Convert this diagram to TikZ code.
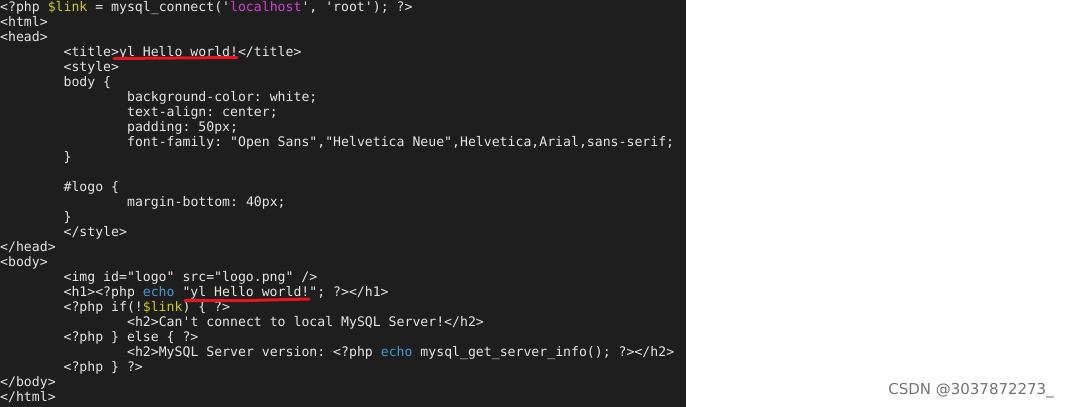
\documentclass[tikz,border=0pt]{standalone}
\usepackage{fontspec}
\setmonofont{DejaVu Sans Mono}
\setsansfont{DejaVu Sans}
\definecolor{termbg}{HTML}{1E1E1E}
\definecolor{termfg}{HTML}{E6E6E6}
\definecolor{phpvar}{HTML}{CDCD00}
\definecolor{phpstr}{HTML}{D040D0}
\definecolor{phpkw}{HTML}{3C9CD4}
\definecolor{mark}{HTML}{E8141E}
\newcommand{\V}[1]{\textcolor{phpvar}{#1}}
\newcommand{\Sg}[1]{\textcolor{phpstr}{#1}}
\newcommand{\K}[1]{\textcolor{phpkw}{#1}}
\begin{document}
\begin{tikzpicture}[x=1pt,y=-1pt,
  code/.style={anchor=base west,inner sep=0pt,text=termfg,font=\fontsize{13.17pt}{15pt}\ttfamily},
  uline/.style={draw=mark,line width=3pt,line cap=round}]
\useasboundingbox (0,0) rectangle (1069,407);
\fill[termbg] (0,0) rectangle (686,407);
\def\a{0}\def\b{63.4}\def\c{126.9}
\newcommand{\Ln}[3]{\node[code] (l#1) at (#2,{11.5+15*(#1-1)}) {#3};}
\Ln{1}{\a}{<?php \V{\$link} = mysql\_connect('\Sg{localhost}', 'root'); ?>}
\Ln{2}{\a}{<html>}
\Ln{3}{\a}{<head>}
\Ln{4}{\b}{<title>yl Hello world!</title>}
\Ln{5}{\b}{<style>}
\Ln{6}{\b}{body \{}
\Ln{7}{\c}{background-color: white;}
\Ln{8}{\c}{text-align: center;}
\Ln{9}{\c}{padding: 50px;}
\Ln{10}{\c}{font-family: "Open Sans","Helvetica Neue",Helvetica,Arial,sans-serif;}
\Ln{11}{\b}{\}}
\Ln{13}{\b}{\#logo \{}
\Ln{14}{\c}{margin-bottom: 40px;}
\Ln{15}{\b}{\}}
\Ln{16}{\b}{</style>}
\Ln{17}{\a}{</head>}
\Ln{18}{\a}{<body>}
\Ln{19}{\b}{<img id="logo" src="logo.png" />}
\Ln{20}{\b}{<h1><?php \K{echo} "yl Hello world!"; ?></h1>}
\Ln{21}{\b}{<?php if(!\V{\$link}) \{ ?>}
\Ln{22}{\c}{<h2>Can't connect to local MySQL Server!</h2>}
\Ln{23}{\b}{<?php \} else \{ ?>}
\Ln{24}{\c}{<h2>MySQL Server version: <?php \K{echo} mysql\_get\_server\_info(); ?></h2>}
\Ln{25}{\b}{<?php \} ?>}
\Ln{26}{\a}{</body>}
\Ln{27}{\a}{</html>}
\draw[uline] (114,58.5) -- (237,57.5);
\draw[uline] (185,300.5) -- (248,300.5) -- (309,299);
\node[anchor=base east,inner sep=0pt,text=black!55,font=\sffamily\fontsize{15pt}{17pt}\selectfont] (wm) at (1054,394) {CSDN @3037872273\_};
\end{tikzpicture}
\end{document}
